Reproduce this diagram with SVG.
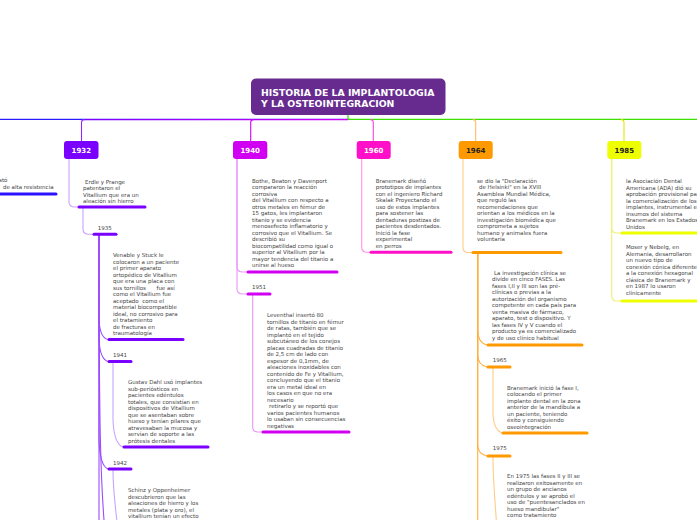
<svg xmlns="http://www.w3.org/2000/svg" width="697" height="520" viewBox="0 0 697 520">
<style>
.t{font-family:"DejaVu Sans","Verdana",sans-serif;font-size:5.5px;fill:#444}
.yr{font-family:"DejaVu Sans",sans-serif;font-size:7px;font-weight:bold;text-anchor:middle}
.ttl{font-family:"DejaVu Sans",sans-serif;font-size:9.3px;font-weight:bold;fill:#fff}
.c{fill:none;stroke-width:1.1}
.u{stroke-width:3;stroke-linecap:round}
</style>
<defs>
<linearGradient id="gp" x1="82" y1="0" x2="348" y2="0" gradientUnits="userSpaceOnUse">
<stop offset="0" stop-color="#7d00ff"/><stop offset="1" stop-color="#d200f2"/>
</linearGradient>
</defs>
<rect width="697" height="520" fill="#fff"/>
<g id="connectors">
<line x1="0" y1="119.3" x2="348" y2="119.3" stroke="#2a1aff" stroke-width="1.2"/>
<line x1="84" y1="119.6" x2="348" y2="119.6" stroke="url(#gp)" stroke-width="1.2"/>
<line x1="348" y1="119.3" x2="697" y2="119.3" stroke="#3de000" stroke-width="1.2"/>
<line x1="348" y1="115" x2="348" y2="119.3" stroke="#3de000" stroke-width="1.2"/>
<path class="c" d="M81.5,141 V122.5 Q81.5,119.6 84.5,119.6" stroke="#8b2cff"/>
<path class="c" d="M250.7,141 V122.5 Q250.7,119.6 253.5,119.6" stroke="#d000ff"/>
<path class="c" d="M373.3,141 V122.5 Q373.3,119.6 370.5,119.6" stroke="#ff44dd"/>
<path class="c" d="M475.7,141 V122.5 Q475.7,119.6 472.8,119.6" stroke="#ffbb66"/>
<path class="c" d="M624,141 V122.5 Q624,119.6 621,119.6" stroke="#e6e600"/>
<!-- 1932 -->
<path class="c" d="M69,159 V202 Q69,207 75,207 H79" stroke="#c9a4ff"/>
<path class="c" d="M83,208 V229 Q83,234.3 89,234.3 H94" stroke="#c9a4ff"/>
<path class="c" d="M99,235 V320 Q100,338 108,339.5" stroke="#9a4cff"/>
<path class="c" d="M99,235 V340 Q100,359 108,361.5" stroke="#9a4cff"/>
<path class="c" d="M99,235 V440 Q100,466 108,469" stroke="#9a4cff"/>
<path class="c" d="M99,235 V530" stroke="#9a4cff"/>
<path class="c" d="M99,235 C99,420 100,500 108,560" stroke="#9a4cff"/>
<path class="c" d="M113,362 V420 Q114,444 123,447" stroke="#c9a4ff"/>
<path class="c" d="M113,470 C113,490 115,505 118,530" stroke="#c9a4ff"/>
<!-- 1940 -->
<path class="c" d="M237,159 V267 Q237,272 243,272 H247" stroke="#ea94f9"/>
<path class="c" d="M237,159 V289 Q237,294 243,294 H247" stroke="#ea94f9"/>
<path class="c" d="M252.7,295 V427 Q252.7,432 258,432 H262" stroke="#ea94f9"/>
<!-- 1960 -->
<path class="c" d="M361.7,159 V247 Q361.7,252.3 367,252.3 H370" stroke="#ff90e6"/>
<!-- 1964 -->
<path class="c" d="M463,159 V247 Q463,252.5 468,252.5 H472" stroke="#ffcc88"/>
<path class="c" d="M477.7,253.5 V330 Q478,343 487,345" stroke="#ffb040"/>
<path class="c" d="M477.7,253.5 V355 Q478,365 487,367" stroke="#ffb040"/>
<path class="c" d="M477.7,253.5 V445 Q478,454 487,456" stroke="#ffb040"/>
<path class="c" d="M477.7,253.5 V530" stroke="#ffb040"/>
<path class="c" d="M493,368 V415 Q494,430 502,433" stroke="#ffcc88"/>
<path class="c" d="M493,457 C493,480 495,500 497,530" stroke="#ffcc88"/>
<!-- 1985 -->
<path class="c" d="M611.7,159 V228 Q611.7,233 617,233 H621" stroke="#f0f070"/>
<path class="c" d="M611.7,159 V296 Q611.7,301 617,301 H621" stroke="#f0f070"/>
</g>
<g id="title">
<rect x="251" y="78.5" width="194.5" height="36.5" rx="5" fill="#672b8f"/>
<text class="ttl" x="261" y="96">HISTORIA DE LA IMPLANTOLOGIA</text>
<text class="ttl" x="261" y="106.5">Y LA OSTEOINTEGRACION</text>
</g>
<g id="left-node">
<text class="t" x="7.5" y="182" text-anchor="end">ató</text>
<text class="t" x="3" y="189.3">de alta resistencia</text>
<line class="u" x1="0" y1="194" x2="56" y2="194" stroke="#2a10ff"/>
</g>
<g id="n1932">
<rect x="64" y="141" width="34.5" height="18" rx="3" fill="#7a00ff"/>
<text class="yr" x="81.3" y="153" fill="#fff">1932</text>
</g>
<g id="n-erdle">
<text class="t" y="183.7"><tspan x="85">Erdle y Prange</tspan><tspan x="83" dy="6.5">patentaron el</tspan><tspan x="83" dy="6.5">Vitallium que era un</tspan><tspan x="83" dy="6.5">aleación sin hierro</tspan></text>
<line class="u" x1="79" y1="207" x2="145" y2="207" stroke="#7a00ff"/>
</g>
<g id="n1935">
<text class="t" x="97.7" y="230">1935</text>
<line class="u" x1="94" y1="234.3" x2="116" y2="234.3" stroke="#7a00ff"/>
</g>
<g id="n-venable">
<text class="t" y="257"><tspan x="113">Venable y Stuck le</tspan><tspan x="113" dy="6.5">colocaron a un paciente</tspan><tspan x="113" dy="6.5">el primer aparato</tspan><tspan x="113" dy="6.5">ortopédico de Vitallium</tspan><tspan x="113" dy="6.5">que era una placa con</tspan><tspan x="113" dy="6.5" xml:space="preserve">sus tornillos      fue así</tspan><tspan x="113" dy="6.5">como el Vitallium fue</tspan><tspan x="113" dy="6.5" xml:space="preserve">aceptado  como el</tspan><tspan x="113" dy="6.5">material biocompatible</tspan><tspan x="113" dy="6.5">ideal, no corrosivo para</tspan><tspan x="113" dy="6.5">el tratamiento</tspan><tspan x="113" dy="6.5">de fracturas en</tspan><tspan x="113" dy="6.5">traumatología</tspan></text>
<line class="u" x1="109" y1="339.5" x2="183" y2="339.5" stroke="#7a00ff"/>
</g>
<g id="n1941">
<text class="t" x="113" y="357">1941</text>
<line class="u" x1="109" y1="361.5" x2="131" y2="361.5" stroke="#7a00ff"/>
</g>
<g id="n-gustav">
<text class="t" y="384"><tspan x="128">Gustav Dahl usó implantes</tspan><tspan x="128" dy="6.5">sub-periósticos en</tspan><tspan x="128" dy="6.5">pacientes edéntulos</tspan><tspan x="128" dy="6.5">totales, que consistían en</tspan><tspan x="128" dy="6.5">dispositivos de Vitallium</tspan><tspan x="128" dy="6.5">que se asentaban sobre</tspan><tspan x="128" dy="6.5">hueso y tenían pilares que</tspan><tspan x="128" dy="6.5">atravesaban la mucosa y</tspan><tspan x="128" dy="6.5">servían de soporte a las</tspan><tspan x="128" dy="6.5">prótesis dentales</tspan></text>
<line class="u" x1="124" y1="447" x2="208" y2="447" stroke="#7a00ff"/>
</g>
<g id="n1942">
<text class="t" x="113" y="465">1942</text>
<line class="u" x1="109" y1="469" x2="131" y2="469" stroke="#7a00ff"/>
</g>
<g id="n-schinz">
<text class="t" y="492"><tspan x="128">Schinz y Oppenheimer</tspan><tspan x="128" dy="6.5">descubrieron que las</tspan><tspan x="128" dy="6.5">aleaciones de hierro y los</tspan><tspan x="128" dy="6.5">metales (plata y oro), el</tspan><tspan x="128" dy="6.5">vitallium tenían un efecto</tspan></text>
</g>
<g id="n1940">
<rect x="233" y="141" width="34.3" height="18" rx="3" fill="#d200f2"/>
<text class="yr" x="250.2" y="153" fill="#fff">1940</text>
</g>
<g id="n-bothe">
<text class="t" y="182.7"><tspan x="252">Bothe, Beaton y Davenport</tspan><tspan x="252" dy="6.5">compararon la reacción</tspan><tspan x="252" dy="6.5">corrosiva</tspan><tspan x="252" dy="6.5">del Vitallium con respecto a</tspan><tspan x="252" dy="6.5">otros metales en fémur de</tspan><tspan x="252" dy="6.5">15 gatos, les implantaron</tspan><tspan x="252" dy="6.5">titanio y se evidencia</tspan><tspan x="252" dy="6.5">menosefecto inflamatorio y</tspan><tspan x="252" dy="6.5">corrosivo que el Vitallium. Se</tspan><tspan x="252" dy="6.5">describió su</tspan><tspan x="252" dy="6.5">biocompatilidad como igual o</tspan><tspan x="252" dy="6.5">superior al Vitallium por la</tspan><tspan x="252" dy="6.5">mayor tendencia del titanio a</tspan><tspan x="252" dy="6.5">unirse al hueso</tspan></text>
<line class="u" x1="248" y1="272" x2="337" y2="272" stroke="#d200f2"/>
</g>
<g id="n1951">
<text class="t" x="252" y="288.7">1951</text>
<line class="u" x1="248" y1="294" x2="270" y2="294" stroke="#d200f2"/>
</g>
<g id="n-leventhal">
<text class="t" y="317"><tspan x="267">Leventhal insertó 80</tspan><tspan x="267" dy="6.5">tornillos de titanio en fémur</tspan><tspan x="267" dy="6.5">de ratas, también que se</tspan><tspan x="267" dy="6.5">implantó en el tejido</tspan><tspan x="267" dy="6.5">subcutáneo de los conejos</tspan><tspan x="267" dy="6.5">placas cuadradas de titanio</tspan><tspan x="267" dy="6.5">de 2,5 cm de lado con</tspan><tspan x="267" dy="6.5">espesor de 0,1mm, de</tspan><tspan x="267" dy="6.5">aleaciones inoxidables con</tspan><tspan x="267" dy="6.5">contenido de Fe y Vitallium,</tspan><tspan x="267" dy="6.5">concluyendo que el titanio</tspan><tspan x="267" dy="6.5">era un metal ideal en</tspan><tspan x="267" dy="6.5">los casos en que no era</tspan><tspan x="267" dy="6.5">necesario</tspan><tspan x="269" dy="6.5">retirarlo y se reportó que</tspan><tspan x="267" dy="6.5">varios pacientes humanos</tspan><tspan x="267" dy="6.5">lo usaban sin consecuencias</tspan><tspan x="267" dy="6.5">negativas</tspan></text>
<line class="u" x1="263" y1="432" x2="349" y2="432" stroke="#d200f2"/>
</g>
<g id="n1960">
<rect x="356.7" y="141" width="34" height="18" rx="3" fill="#ff10c8"/>
<text class="yr" x="373.7" y="153" fill="#fff">1960</text>
</g>
<g id="n-branemark1">
<text class="t" y="182.7"><tspan x="375.7">Branemark diseñó</tspan><tspan x="375.7" dy="6.5">prototipos de implantes</tspan><tspan x="375.7" dy="6.5">con el ingeniero Richard</tspan><tspan x="375.7" dy="6.5">Skalak Proyectando el</tspan><tspan x="375.7" dy="6.5">uso de estos implantes</tspan><tspan x="375.7" dy="6.5">para sostener las</tspan><tspan x="375.7" dy="6.5">dentaduras postizas de</tspan><tspan x="375.7" dy="6.5">pacientes desdentados.</tspan><tspan x="375.7" dy="6.5">Inició la fase</tspan><tspan x="375.7" dy="6.5">experimental</tspan><tspan x="375.7" dy="6.5">en perros</tspan></text>
<line class="u" x1="371" y1="252.3" x2="451" y2="252.3" stroke="#ff10c8"/>
</g>
<g id="n1964">
<rect x="458.7" y="141" width="34" height="18" rx="3" fill="#ff9900"/>
<text class="yr" x="475.7" y="153" fill="#222">1964</text>
</g>
<g id="n-helsinki">
<text class="t" y="182.7"><tspan x="477">se dio la "Declaración</tspan><tspan x="479" dy="6.5">de Helsinki" en la XVIII</tspan><tspan x="477" dy="6.5">Asamblea Mundial Médica,</tspan><tspan x="477" dy="6.5">que reguló las</tspan><tspan x="477" dy="6.5">recomendaciones que</tspan><tspan x="477" dy="6.5">orientan a los médicos en la</tspan><tspan x="477" dy="6.5">investigación biomédica que</tspan><tspan x="477" dy="6.5">comprometa a sujetos</tspan><tspan x="477" dy="6.5">humano y animales fuera</tspan><tspan x="477" dy="6.5">voluntaria</tspan></text>
<line class="u" x1="473" y1="252.5" x2="561" y2="252.5" stroke="#ff9900"/>
</g>
<g id="n-fases">
<text class="t" y="274.7"><tspan x="494">La investigación clínica se</tspan><tspan x="492" dy="6.5">divide en cinco FASES. Las</tspan><tspan x="492" dy="6.5">fases I,II y III son las pré-</tspan><tspan x="492" dy="6.5">clínicas o previas a la</tspan><tspan x="492" dy="6.5">autorización del organismo</tspan><tspan x="492" dy="6.5">competente en cada país para</tspan><tspan x="492" dy="6.5">venta masiva de fármaco,</tspan><tspan x="492" dy="6.5">aparato, test o dispositivo. Y</tspan><tspan x="492" dy="6.5">las fases IV y V cuando el</tspan><tspan x="492" dy="6.5">producto ya es comercializado</tspan><tspan x="492" dy="6.5">y de uso clínico habitual</tspan></text>
<line class="u" x1="488" y1="345" x2="582" y2="345" stroke="#ff9900"/>
</g>
<g id="n1965">
<text class="t" x="492.7" y="362">1965</text>
<line class="u" x1="488" y1="367" x2="510" y2="367" stroke="#ff9900"/>
</g>
<g id="n-branemark2">
<text class="t" y="389.7"><tspan x="507">Branemark inició la fase I,</tspan><tspan x="507" dy="6.5">colocando el primer</tspan><tspan x="507" dy="6.5">implante dental en la zona</tspan><tspan x="507" dy="6.5">anterior de la mandíbula a</tspan><tspan x="507" dy="6.5">un paciente, teniendo</tspan><tspan x="507" dy="6.5">éxito y consiguiendo</tspan><tspan x="507" dy="6.5">oseointegración</tspan></text>
<line class="u" x1="503" y1="433" x2="587" y2="433" stroke="#ff9900"/>
</g>
<g id="n1975">
<text class="t" x="492.7" y="450">1975</text>
<line class="u" x1="488" y1="456" x2="510" y2="456" stroke="#ff9900"/>
</g>
<g id="n-fases1975">
<text class="t" y="478"><tspan x="507">En 1975 las fases II y III se</tspan><tspan x="507" dy="6.5">realizaron exitosamente en</tspan><tspan x="507" dy="6.5">un grupo de ancianos</tspan><tspan x="507" dy="6.5">edéntulos y se aprobó el</tspan><tspan x="507" dy="6.5">uso de "puentesanclados en</tspan><tspan x="507" dy="6.5">hueso mandibular"</tspan><tspan x="507" dy="6.5">como tratamiento</tspan></text>
</g>
<g id="n1985">
<rect x="607.3" y="141" width="34" height="18" rx="3" fill="#eeff00"/>
<text class="yr" x="624.3" y="153" fill="#222">1985</text>
</g>
<g id="n-ada">
<text class="t" y="183"><tspan x="626">la Asociación Dental</tspan><tspan x="626" dy="6.5">Americana (ADA) dió su</tspan><tspan x="626" dy="6.5">aprobación provisional para</tspan><tspan x="626" dy="6.5">la comercialización de los</tspan><tspan x="626" dy="6.5">implantes, instrumental e</tspan><tspan x="626" dy="6.5">insumos del sistema</tspan><tspan x="626" dy="6.5">Branemark en los Estados</tspan><tspan x="626" dy="6.5">Unidos</tspan></text>
<line class="u" x1="622" y1="233" x2="700" y2="233" stroke="#eeff00"/>
</g>
<g id="n-moser">
<text class="t" y="249"><tspan x="626">Moser y Nebelg, en</tspan><tspan x="626" dy="6.5">Alemania, desarrollaron</tspan><tspan x="626" dy="6.5">un nuevo tipo de</tspan><tspan x="626" dy="6.5">conexión cónica diferente</tspan><tspan x="626" dy="6.5">a la conexión hexagonal</tspan><tspan x="626" dy="6.5">clásica de Branemark y</tspan><tspan x="626" dy="6.5">en 1987 lo usaron</tspan><tspan x="626" dy="6.5">clínicamente</tspan></text>
<line class="u" x1="622" y1="301" x2="700" y2="301" stroke="#eeff00"/>
</g>
</svg>
